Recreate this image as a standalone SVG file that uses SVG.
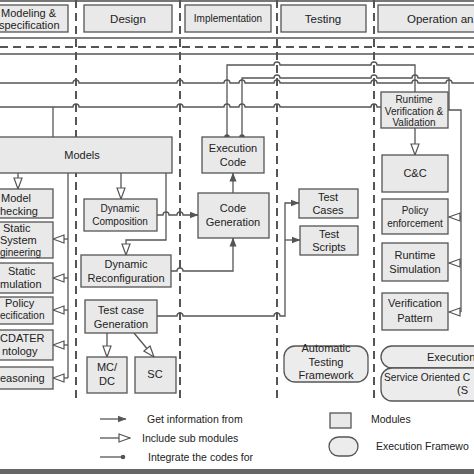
<svg xmlns="http://www.w3.org/2000/svg" width="474" height="474" viewBox="0 0 474 474">
<style>
.box{fill:#e9e9e9;stroke:#555;stroke-width:1.3}
.fw{fill:#ececec;stroke:#555;stroke-width:1.3}
.ln{fill:none;stroke:#555;stroke-width:1.3}
.dash{fill:none;stroke:#555;stroke-width:2;stroke-dasharray:8 5}
.t{font-family:"Liberation Sans",Arial,sans-serif;font-size:11px;fill:#222;text-anchor:middle}
.s{font-size:10px}
.l{text-anchor:start}
</style>
<defs>
<marker id="fa" markerWidth="9" markerHeight="8" refX="8.5" refY="4" orient="auto" markerUnits="userSpaceOnUse"><path d="M0,0.5 L9,4 L0,7.5 z" fill="#555"/></marker>
<marker id="ha" markerWidth="13" markerHeight="10" refX="12" refY="5" orient="auto" markerUnits="userSpaceOnUse"><path d="M1,1 L12,5 L1,9 z" fill="#fff" stroke="#555" stroke-width="1.2"/></marker>
<marker id="dot" markerWidth="8" markerHeight="8" refX="4" refY="4" markerUnits="userSpaceOnUse"><circle cx="4" cy="4" r="2.8" fill="#555"/></marker>
</defs>
<rect x="0" y="0" width="474" height="2" fill="#777"/>
<rect x="0" y="469" width="474" height="5" fill="#666"/>

<g id="header">
<rect class="box" x="-5" y="5" width="73" height="27"/>
<text class="t l" x="1" y="17">Modeling &amp;</text>
<text class="t l" x="-1" y="29">specification</text>
<rect class="box" x="84" y="5" width="88" height="27"/>
<text class="t" x="128" y="23" style="font-size:11.5px">Design</text>
<rect class="box" x="185" y="5" width="86" height="27"/>
<text class="t s" x="228" y="22">Implementation</text>
<rect class="box" x="281" y="5" width="85" height="27"/>
<text class="t" x="323" y="23" style="font-size:11.5px">Testing</text>
<rect class="box" x="378" y="5" width="110" height="27"/>
<text class="t l" x="407" y="23" style="font-size:11.5px">Operation an</text>
</g>

<g id="lanes">
<line class="ln" x1="0" y1="38" x2="474" y2="38" stroke-width="1"/>
<line class="dash" x1="0" y1="47" x2="474" y2="47"/>
<line class="ln" x1="0" y1="54" x2="474" y2="54"/>
<line class="dash" x1="76" y1="0" x2="76" y2="398"/>
<line class="dash" x1="180" y1="0" x2="180" y2="398"/>
<line class="dash" x1="277" y1="0" x2="277" y2="398"/>
<line class="dash" x1="374" y1="0" x2="374" y2="398"/>
</g>

<g id="connectors">
<path class="ln" d="M0,83 H73 a3,3 0 0 1 6,0 H177 a3,3 0 0 1 6,0 H224 a3,3 0 0 1 6,0 H239 a3,3 0 0 1 6,0 H274 a3,3 0 0 1 6,0 H371 a3,3 0 0 1 6,0 H412 a3,3 0 0 1 6,0 H446 a3,3 0 0 1 6,0 H474"/>
<path class="ln" d="M0,107 H73 a3,3 0 0 1 6,0 H177 a3,3 0 0 1 6,0 H224 a3,3 0 0 1 6,0 H239 a3,3 0 0 1 6,0 H274 a3,3 0 0 1 6,0 H371 a3,3 0 0 1 6,0 H381"/>
<path class="ln" d="M53,107 V137"/>
<path class="ln" marker-start="url(#dot)" d="M227,137 V65 H274 a3,3 0 0 1 6,0 H371 a3,3 0 0 1 6,0 H415 V92"/>
<path class="ln" marker-start="url(#dot)" d="M242,137 V78 H274 a3,3 0 0 1 6,0 H371 a3,3 0 0 1 6,0 H412 a3,3 0 0 1 6,0 H449 V110"/>
<path class="ln" marker-end="url(#ha)" d="M18,173 V189"/>
<path class="ln" d="M68,173 V378"/>
<path class="ln" marker-end="url(#ha)" d="M68,239 H53"/>
<path class="ln" marker-end="url(#ha)" d="M68,278 H53"/>
<path class="ln" marker-end="url(#ha)" d="M68,310 H53"/>
<path class="ln" marker-end="url(#ha)" d="M68,345 H53"/>
<path class="ln" marker-end="url(#ha)" d="M68,378 H53"/>
<path class="ln" marker-end="url(#ha)" d="M121,173 V199"/>
<path class="ln" marker-end="url(#ha)" d="M166,173 V240 H126 V255"/>
<path class="ln" marker-end="url(#fa)" d="M157,215 H163 a3,3 0 0 1 6,0 H177 a3,3 0 0 1 6,0 H198"/>
<path class="ln" marker-end="url(#fa)" d="M233,193 V173"/>
<path class="ln" marker-end="url(#fa)" d="M171,271 H177 a3,3 0 0 1 6,0 H233 V238"/>
<path class="ln" marker-end="url(#fa)" d="M157,316 H177 a3,3 0 0 1 6,0 H274 a3,3 0 0 1 6,0 H285 V203 H299"/>
<path class="ln" marker-end="url(#fa)" d="M285,240 H300"/>
<path class="ln" marker-end="url(#ha)" d="M107,333 V357"/>
<path class="ln" marker-end="url(#ha)" d="M134,333 L154,357"/>
<path class="ln" marker-end="url(#ha)" d="M415,128 V155"/>
<path class="ln" d="M448,110 H461 V312"/>
<path class="ln" marker-end="url(#ha)" d="M461,217 H449"/>
<path class="ln" marker-end="url(#ha)" d="M461,263 H449"/>
<path class="ln" marker-end="url(#ha)" d="M461,312 H449"/>
</g>

<g id="models"><rect class="box" x="-5" y="137" width="177" height="36"/><text class="t" x="82" y="159">Models</text></g>
<g id="model-checking"><rect class="box" x="-5" y="189" width="58" height="29"/><text class="t l" x="1" y="202">Model</text><text class="t l" x="0" y="215">hecking</text></g>
<g id="static-system"><rect class="box" x="-5" y="222" width="58" height="36"/><text class="t l" x="3" y="232">Static</text><text class="t l" x="0" y="244">System</text><text class="t l s" x="0" y="256">gineering</text></g>
<g id="static-sim"><rect class="box" x="-5" y="263" width="58" height="30"/><text class="t l" x="8" y="275">Static</text><text class="t l" x="0" y="288">mulation</text></g>
<g id="policy-spec"><rect class="box" x="-5" y="297" width="58" height="27"/><text class="t l" x="5" y="307">Policy</text><text class="t l s" x="0" y="319">ecification</text></g>
<g id="ontology"><rect class="box" x="-5" y="330" width="58" height="30"/><text class="t l" x="0" y="342">CDATER</text><text class="t l" x="2" y="355">ntology</text></g>
<g id="reasoning"><rect class="box" x="-5" y="367" width="58" height="22"/><text class="t l" x="0" y="382">easoning</text></g>

<g id="dyn-comp"><rect class="box" x="84" y="199" width="73" height="32"/><text class="t s" x="120" y="212">Dynamic</text><text class="t s" x="120" y="225">Composition</text></g>
<g id="dyn-reconf"><rect class="box" x="81" y="255" width="90" height="32"/><text class="t" x="126" y="268">Dynamic</text><text class="t" x="126" y="282">Reconfiguration</text></g>
<g id="tcg"><rect class="box" x="85" y="300" width="72" height="33"/><text class="t" x="121" y="314">Test case</text><text class="t" x="121" y="328">Generation</text></g>
<g id="mcdc"><rect class="box" x="87" y="357" width="40" height="36"/><text class="t" x="107" y="371">MC/</text><text class="t" x="107" y="385">DC</text></g>
<g id="sc"><rect class="box" x="135" y="357" width="41" height="36"/><text class="t" x="155" y="378">SC</text></g>

<g id="exec-code"><rect class="box" x="202" y="137" width="62" height="36"/><text class="t" x="233" y="152">Execution</text><text class="t" x="233" y="166">Code</text></g>
<g id="code-gen"><rect class="box" x="198" y="193" width="71" height="45"/><text class="t" x="233" y="212">Code</text><text class="t" x="233" y="226">Generation</text></g>

<g id="test-cases"><rect class="box" x="299" y="189" width="59" height="29"/><text class="t" x="328" y="201">Test</text><text class="t" x="328" y="214">Cases</text></g>
<g id="test-scripts"><rect class="box" x="300" y="226" width="58" height="29"/><text class="t" x="329" y="238">Test</text><text class="t" x="329" y="251">Scripts</text></g>
<g id="atf"><rect class="fw" x="284" y="346" width="84" height="36" rx="11"/><text class="t" x="326" y="352">Automatic</text><text class="t" x="326" y="366">Testing</text><text class="t" x="326" y="379">Framework</text></g>

<g id="rvv"><rect class="box" x="381" y="92" width="67" height="36"/><text class="t s" x="414" y="103">Runtime</text><text class="t s" x="414" y="115">Verification &amp;</text><text class="t s" x="414" y="126">Validation</text></g>
<g id="cc"><rect class="box" x="382" y="155" width="66" height="37"/><text class="t" x="415" y="177">C&amp;C</text></g>
<g id="policy-enf"><rect class="box" x="382" y="199" width="66" height="35"/><text class="t s" x="415" y="214">Policy</text><text class="t s" x="415" y="227">enforcement</text></g>
<g id="rt-sim"><rect class="box" x="382" y="243" width="66" height="38"/><text class="t" x="415" y="259">Runtime</text><text class="t" x="415" y="273">Simulation</text></g>
<g id="ver-pattern"><rect class="box" x="382" y="293" width="66" height="37"/><text class="t" x="415" y="307">Verification</text><text class="t" x="415" y="322">Pattern</text></g>
<g id="exec-fw"><rect class="fw" x="381" y="346" width="110" height="22" rx="11"/><text class="t l" x="427" y="361">Execution</text></g>
<g id="soc"><rect class="fw" x="381" y="368" width="110" height="33" rx="11"/><text class="t l" x="384" y="381" style="font-size:10.2px">Service Oriented C</text><text class="t l" x="457" y="394">(S</text></g>

<g id="legend">
<path class="ln" marker-end="url(#fa)" d="M100,419 H126"/>
<text class="t l" x="147" y="423" style="font-size:10.5px">Get information from</text>
<path class="ln" marker-end="url(#ha)" d="M100,438 H130"/>
<text class="t l" x="142" y="442" style="font-size:10.5px">Include sub modules</text>
<path class="ln" d="M100,457 H123"/><circle cx="123" cy="457" r="2.3" fill="#555"/>
<text class="t l" x="148" y="461" style="font-size:10.5px">Integrate the codes for</text>
<rect class="box" x="330" y="413" width="21" height="15"/>
<text class="t l" x="371" y="423" style="font-size:10.5px">Modules</text>
<rect class="fw" x="329" y="437" width="29" height="19" rx="9.5"/>
<text class="t l" x="376" y="450" style="font-size:10.5px">Execution Framewo</text>
</g>
</svg>
